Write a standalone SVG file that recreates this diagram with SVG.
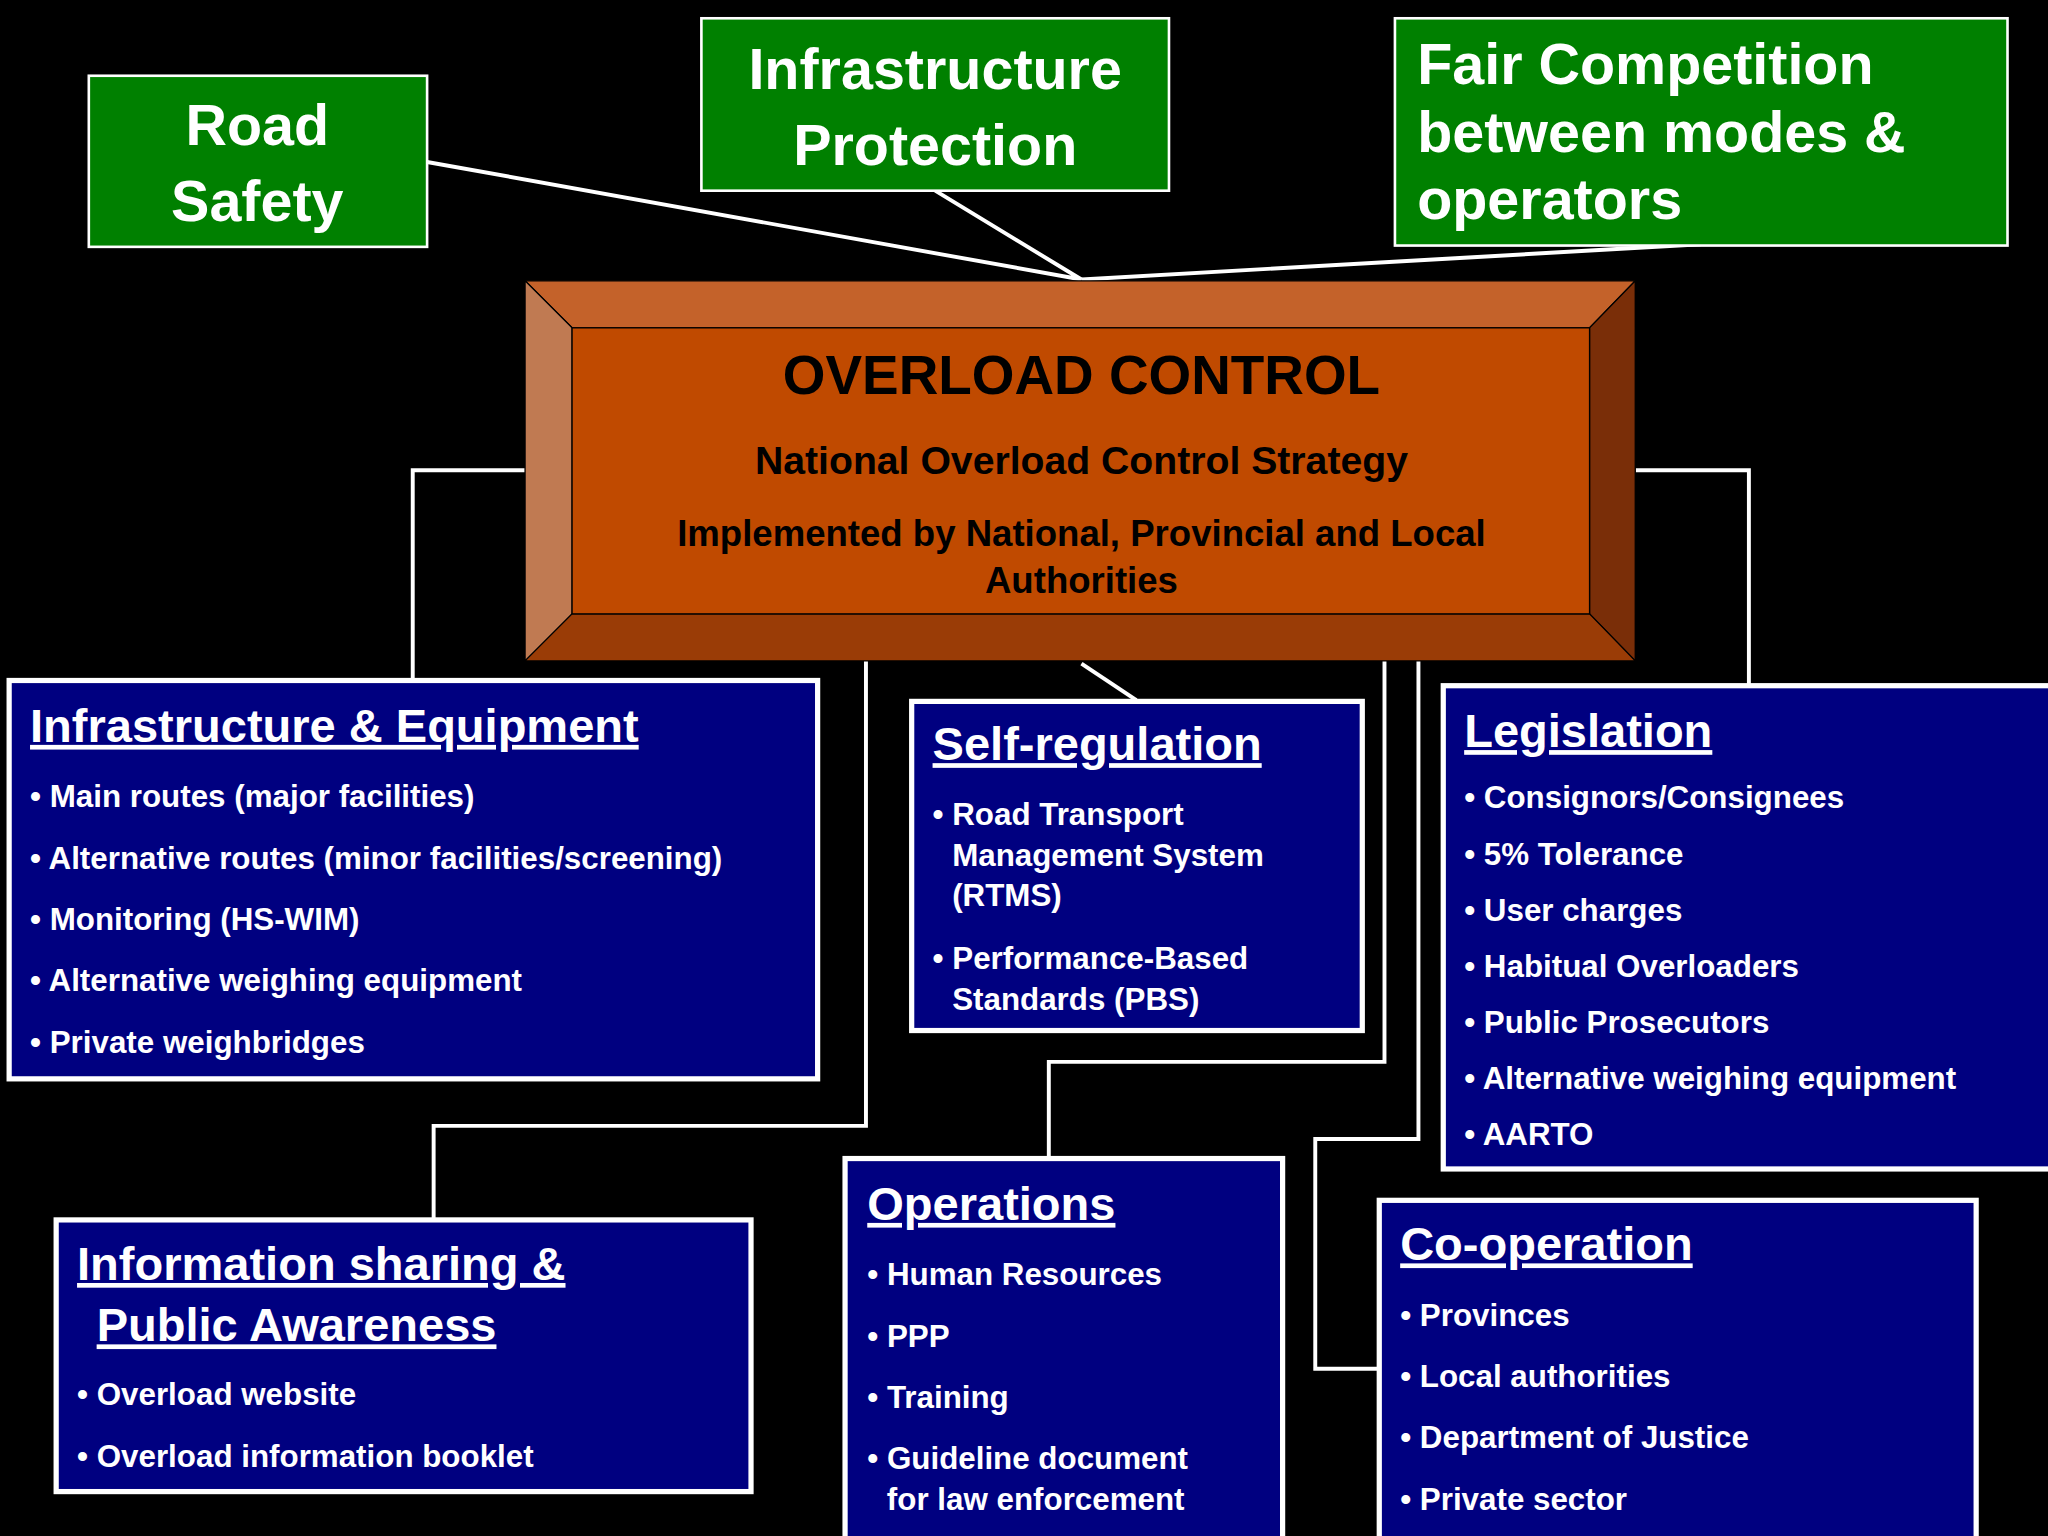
<svg xmlns="http://www.w3.org/2000/svg" width="2048" height="1536" viewBox="0 0 2048 1536">
<style>
.g{fill:#008000;stroke:#fff;stroke-width:2}
.b{fill:#000080;stroke:#fff;stroke-width:4}
.c{fill:none;stroke:#fff;stroke-width:3}
text{font-family:"Liberation Sans",Arial,sans-serif;font-weight:bold}
.gt{fill:#fff;font-size:44px}
.h{fill:#fff;font-size:36px;text-decoration:underline}
.i{fill:#fff;font-size:24px}
.k{fill:#000}
</style>
<rect width="2048" height="1536" fill="#000"/>
<g transform="scale(1.30612)">
<g id="connectors">
<polyline class="c" points="327,124 828,214 716,146"/>
<polyline class="c" points="828,214 1302,187"/>
<polyline class="c" points="402,360 316,360 316,521"/>
<polyline class="c" points="1252,360 1339,360 1339,524"/>
<polyline class="c" points="663,506 663,862 332,862 332,934"/>
<polyline class="c" points="828,508 870,536"/>
<polyline class="c" points="1060,506 1060,813 803,813 803,887"/>
<polyline class="c" points="1086,506 1086,872 1007,872 1007,1048 1056,1048"/>
</g>
<g id="road-safety"><rect class="g" x="68" y="58" width="259" height="131"/>
<text class="gt" x="197" y="111" text-anchor="middle">Road</text><text class="gt" x="197" y="169" text-anchor="middle">Safety</text></g>
<g id="infra-protection"><rect class="g" x="537" y="14" width="358" height="132"/>
<text class="gt" x="716" y="68" text-anchor="middle">Infrastructure</text><text class="gt" x="716" y="126" text-anchor="middle">Protection</text></g>
<g id="fair-competition"><rect class="g" x="1068" y="14" width="469" height="174"/>
<text class="gt" x="1085" y="64" font-size="42">Fair Competition</text><text class="gt" x="1085" y="116">between modes &amp;</text><text class="gt" x="1085" y="168">operators</text></g>
<g id="overload-control">
<polygon points="402,215 1252,215 1217,251 438,251" fill="#c4622a" stroke="#000"/>
<polygon points="402,215 438,251 438,470 402,506" fill="#c07a52" stroke="#000"/>
<polygon points="1252,215 1252,506 1217,470 1217,251" fill="#7a2e08" stroke="#000"/>
<polygon points="402,506 438,470 1217,470 1252,506" fill="#9a3c06" stroke="#000"/>
<rect x="438" y="251" width="779" height="219" fill="#c04a00" stroke="#000"/>
<text class="k" x="828" y="302" font-size="42" text-anchor="middle">OVERLOAD CONTROL</text>
<text class="k" x="828" y="363" font-size="30" text-anchor="middle">National Overload Control Strategy</text>
<text class="k" x="828" y="418" font-size="28" text-anchor="middle">Implemented by National, Provincial and Local</text>
<text class="k" x="828" y="454" font-size="28" text-anchor="middle">Authorities</text></g>
<g id="infra-equipment"><rect class="b" x="7" y="521" width="619" height="305"/>
<text class="h" x="23" y="568">Infrastructure &amp; Equipment</text>
<text class="i" x="23" y="618">• Main routes (major facilities)</text>
<text class="i" x="23" y="665">• Alternative routes (minor facilities/screening)</text>
<text class="i" x="23" y="712">• Monitoring (HS-WIM)</text>
<text class="i" x="23" y="759">• Alternative weighing equipment</text>
<text class="i" x="23" y="806">• Private weighbridges</text></g>
<g id="self-regulation"><rect class="b" x="698" y="537" width="345" height="252"/>
<text class="h" x="714" y="582">Self-regulation</text>
<text class="i" x="714" y="632">• Road Transport</text>
<text class="i" x="729" y="663">Management System</text>
<text class="i" x="729" y="694">(RTMS)</text>
<text class="i" x="714" y="742">• Performance-Based</text>
<text class="i" x="729" y="773">Standards (PBS)</text></g>
<g id="legislation"><rect class="b" x="1105" y="525" width="470" height="370"/>
<text class="h" x="1121" y="572">Legislation</text>
<text class="i" x="1121" y="619" font-size="22">• Consignors/Consignees</text>
<text class="i" x="1121" y="662" font-size="22">• 5% Tolerance</text>
<text class="i" x="1121" y="705" font-size="22">• User charges</text>
<text class="i" x="1121" y="748" font-size="22">• Habitual Overloaders</text>
<text class="i" x="1121" y="791" font-size="22">• Public Prosecutors</text>
<text class="i" x="1121" y="834" font-size="22">• Alternative weighing equipment</text>
<text class="i" x="1121" y="877" font-size="22">• AARTO</text></g>
<g id="info-sharing"><rect class="b" x="43" y="934" width="532" height="208"/>
<text class="h" x="59" y="980">Information sharing &amp;</text>
<text class="h" x="74" y="1027">Public Awareness</text>
<text class="i" x="59" y="1076">• Overload website</text>
<text class="i" x="59" y="1123">• Overload information booklet</text></g>
<g id="operations"><rect class="b" x="647" y="887" width="335" height="300"/>
<text class="h" x="664" y="934">Operations</text>
<text class="i" x="664" y="984">• Human Resources</text>
<text class="i" x="664" y="1031">• PPP</text>
<text class="i" x="664" y="1078">• Training</text>
<text class="i" x="664" y="1125">• Guideline document</text>
<text class="i" x="679" y="1156">for law enforcement</text></g>
<g id="co-operation"><rect class="b" x="1056" y="919" width="457" height="270"/>
<text class="h" x="1072" y="965">Co-operation</text>
<text class="i" x="1072" y="1015">• Provinces</text>
<text class="i" x="1072" y="1062">• Local authorities</text>
<text class="i" x="1072" y="1109">• Department of Justice</text>
<text class="i" x="1072" y="1156">• Private sector</text></g>
</g>
</svg>
